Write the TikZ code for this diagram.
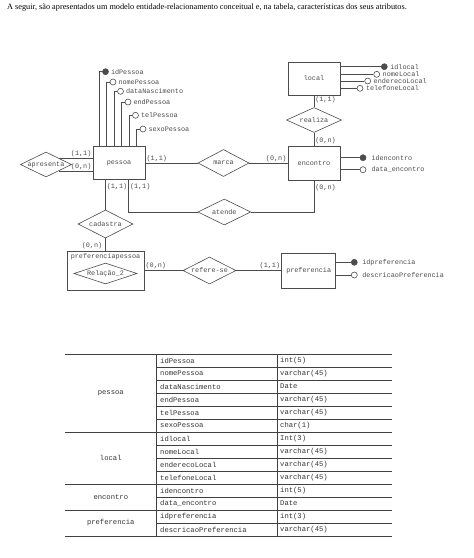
\documentclass[tikz,border=0pt]{standalone}
\usepackage{fontspec}
\setmainfont{Liberation Serif}
\setmonofont{Liberation Mono}
\usetikzlibrary{shapes.geometric,positioning,calc}

\newcommand{\dfont}{\fontsize{6.8}{7}\selectfont\ttfamily}
\newcommand{\tfont}{\fontsize{7.2}{8}\selectfont\ttfamily}

\begin{document}
\begin{tikzpicture}[
        x=1pt, y=-1pt,
        font=\dfont,
        entidade/.style={draw=black!70, text=black!70, line width=0.6pt, minimum width=52pt, minimum height=33pt, inner sep=0pt},
        relacao/.style={diamond, draw=black!70, text=black!70, line width=0.6pt, shape aspect=2, inner sep=0pt, minimum width=52pt, minimum height=26pt},
        chave/.style={circle, draw=black!70, fill=black!70, line width=0.6pt, minimum size=6pt, inner sep=0pt},
        atrib/.style={circle, draw=black!70, fill=white, line width=0.6pt, minimum size=6pt, inner sep=0pt},
        rotulo/.style={text=black!70, inner sep=0pt, anchor=west},
        card/.style={text=black!70, inner sep=1pt},
        liga/.style={draw=black!70, line width=0.6pt},
        grade/.style={draw=black!75, line width=0.6pt},
        celula/.style={font=\tfont, text=black!80, inner sep=0pt, anchor=west},
        grupo/.style={font=\tfont, text=black!80, inner sep=0pt}
    ]
        \useasboundingbox (0,0) rectangle (474,558);

        \node[font=\fontsize{8.25}{9}\selectfont\rmfamily, anchor=west, inner sep=0pt] (titulo) at (7,8) {A seguir, são apresentados um modelo entidade-relacionamento conceitual e, na tabela, características dos seus atributos.};

        % entidades
        \node[entidade] (pessoa) at (119,163) {pessoa};
        \node[entidade, minimum height=34pt] (encontro) at (314,163) {encontro};
        \node[entidade] (local) at (314,78.5) {local};
        \node[entidade, minimum width=54pt, minimum height=35pt] (preferencia) at (308.7,270.5) {preferencia};
        \node[draw=black!70, line width=0.6pt, minimum width=77pt, minimum height=39pt, inner sep=0pt] (prefpessoa) at (105.5,270.5) {};
        \node[text=black!70, inner sep=0pt] (prefpessoaRot) at (105.5,256.5) {preferenciapessoa};
        \node[relacao, minimum width=63pt, minimum height=21pt, shape aspect=3] (relacao2) at (105.5,273.5) {Relação\_2};

        % relacionamentos
        \node[relacao, minimum width=51pt, minimum height=25pt] (apresenta) at (46,164.5) {apresenta};
        \node[relacao, minimum width=51pt, minimum height=27pt] (marca) at (223.5,163) {marca};
        \node[relacao, minimum width=55pt, minimum height=25pt] (realiza) at (314,120) {realiza};
        \node[relacao, minimum width=53pt, minimum height=26pt] (atende) at (224.3,212) {atende};
        \node[relacao, minimum width=55pt, minimum height=28pt] (cadastra) at (105.5,224) {cadastra};
        \node[relacao, minimum width=53pt, minimum height=27pt] (referese) at (209.5,270.5) {refere-se};

        % ligacoes
        \draw[liga] (apresenta.north east) -- (apresenta.north east -| pessoa.west) node[card, above left] {(1,1)};
        \draw[liga] (apresenta.south east) -- (apresenta.south east -| pessoa.west) node[card, above left] {(0,n)};
        \draw[liga] (pessoa.east) node[card, above right] {(1,1)} -- (marca.west);
        \draw[liga] (marca.east) -- (encontro.west) node[card, above left] {(0,n)};
        \draw[liga] (local.south) node[card, below right] {(1,1)} -- (realiza.north);
        \draw[liga] (realiza.south) -- (encontro.north) node[card, above right] {(0,n)};
        \draw[liga] (cadastra.north |- pessoa.south) node[card, below right, yshift=-2pt] {(1,1)} -- (cadastra.north);
        \draw[liga] ([xshift=9.7pt]pessoa.south) node[card, below right, yshift=-2pt] {(1,1)} |- (atende.west);
        \draw[liga] (atende.east) -| (encontro.south) node[card, below right, yshift=-3pt] {(0,n)};
        \draw[liga] (cadastra.south) -- (prefpessoa.north -| cadastra.south) node[card, above left, xshift=-2pt] {(0,n)};
        \draw[liga] (prefpessoa.east) node[card, above right] {(0,n)} -- (referese.west);
        \draw[liga] (referese.east) -- (preferencia.west) node[card, above left] {(1,1)};

        % atributos de pessoa
        \node[chave] (aIdPessoa) at (105.5,71.7) {};
        \node[atrib] (aNomePessoa) at (113,82) {};
        \node[atrib] (aDataNasc) at (120.5,91.3) {};
        \node[atrib] (aEndPessoa) at (128,102) {};
        \node[atrib] (aTelPessoa) at (135.5,115.3) {};
        \node[atrib] (aSexoPessoa) at (143,129) {};
        \node[rotulo, right=2pt of aIdPessoa] (tIdPessoa) {idPessoa};
        \node[rotulo, right=2pt of aNomePessoa] (tNomePessoa) {nomePessoa};
        \node[rotulo, right=2pt of aDataNasc] (tDataNasc) {dataNascimento};
        \node[rotulo, right=2pt of aEndPessoa] (tEndPessoa) {endPessoa};
        \node[rotulo, right=2pt of aTelPessoa] (tTelPessoa) {telPessoa};
        \node[rotulo, right=2pt of aSexoPessoa] (tSexoPessoa) {sexoPessoa};
        \draw[liga] (aIdPessoa.west) -| ($(aIdPessoa.west |- pessoa.north)+(-3,0)$);
        \draw[liga] (aNomePessoa.west) -| ($(aNomePessoa.west |- pessoa.north)+(-3,0)$);
        \draw[liga] (aDataNasc.west) -| ($(aDataNasc.west |- pessoa.north)+(-3,0)$);
        \draw[liga] (aEndPessoa.west) -| ($(aEndPessoa.west |- pessoa.north)+(-3,0)$);
        \draw[liga] (aTelPessoa.west) -| ($(aTelPessoa.west |- pessoa.north)+(-3,0)$);
        \draw[liga] (aSexoPessoa.west) -| ($(aSexoPessoa.west |- pessoa.north)+(-3,0)$);

        % atributos de local
        \node[chave] (aIdLocal) at (384.3,66.7) {};
        \node[atrib] (aNomeLocal) at (376.7,74.3) {};
        \node[atrib] (aEndLocal) at (367.7,81) {};
        \node[atrib] (aTelLocal) at (360,88.3) {};
        \node[rotulo, right=2.5pt of aIdLocal] (tIdLocal) {idlocal};
        \node[rotulo, right=2.5pt of aNomeLocal] (tNomeLocal) {nomeLocal};
        \node[rotulo, right=2.5pt of aEndLocal] (tEndLocal) {enderecoLocal};
        \node[rotulo, right=2.5pt of aTelLocal] (tTelLocal) {telefoneLocal};
        \draw[liga] (local.east |- aIdLocal) -- (aIdLocal.west);
        \draw[liga] (local.east |- aNomeLocal) -- (aNomeLocal.west);
        \draw[liga] (local.east |- aEndLocal) -- (aEndLocal.west);
        \draw[liga] (local.east |- aTelLocal) -- (aTelLocal.west);

        % atributos de encontro
        \node[chave] (aIdEncontro) at (363,157.7) {};
        \node[atrib] (aDataEncontro) at (363,169.7) {};
        \node[rotulo, right=5pt of aIdEncontro] (tIdEncontro) {idencontro};
        \node[rotulo, right=5pt of aDataEncontro] (tDataEncontro) {data\_encontro};
        \draw[liga] (encontro.east |- aIdEncontro) -- (aIdEncontro.west);
        \draw[liga] (encontro.east |- aDataEncontro) -- (aDataEncontro.west);

        % atributos de preferencia
        \node[chave] (aIdPref) at (354.3,262.3) {};
        \node[atrib] (aDescPref) at (354.3,275) {};
        \node[rotulo, right=4.5pt of aIdPref] (tIdPref) {idpreferencia};
        \node[rotulo, right=4.5pt of aDescPref] (tDescPref) {descricaoPreferencia};
        \draw[liga] (preferencia.east |- aIdPref) -- (aIdPref.west);
        \draw[liga] (preferencia.east |- aDescPref) -- (aDescPref.west);

        % tabela
        \draw[grade] (65,354) -- (392,354) (65,432) -- (392,432) (65,484) -- (392,484) (65,510) -- (392,510) (65,536) -- (392,536);
        \draw[grade] (156.7,367) -- (392,367) (156.7,380) -- (392,380) (156.7,393) -- (392,393) (156.7,406) -- (392,406) (156.7,419) -- (392,419)
            (156.7,445) -- (392,445) (156.7,458) -- (392,458) (156.7,471) -- (392,471) (156.7,497) -- (392,497) (156.7,523) -- (392,523);
        \draw[grade, line width=1pt] (156.7,354) -- (156.7,536) (277.3,354) -- (277.3,536);

        \node[grupo] (gPessoa) at (110.8,393) {pessoa};
        \node[grupo] (gLocal) at (110.8,458) {local};
        \node[grupo] (gEncontro) at (110.8,497) {encontro};
        \node[grupo] (gPreferencia) at (110.8,523) {preferencia};

        \node[celula] (c1) at (160,360.5) {idPessoa};
        \node[celula] (c2) at (160,373.5) {nomePessoa};
        \node[celula] (c3) at (160,386.5) {dataNascimento};
        \node[celula] (c4) at (160,399.5) {endPessoa};
        \node[celula] (c5) at (160,412.5) {telPessoa};
        \node[celula] (c6) at (160,425.5) {sexoPessoa};
        \node[celula] (c7) at (160,438.5) {idlocal};
        \node[celula] (c8) at (160,451.5) {nomeLocal};
        \node[celula] (c9) at (160,464.5) {enderecoLocal};
        \node[celula] (c10) at (160,477.5) {telefoneLocal};
        \node[celula] (c11) at (160,490.5) {idencontro};
        \node[celula] (c12) at (160,503.5) {data\_encontro};
        \node[celula] (c13) at (160,516.5) {idpreferencia};
        \node[celula] (c14) at (160,529.5) {descricaoPreferencia};

        \node[celula] (d1) at (280,360.5) {int(5)};
        \node[celula] (d2) at (280,373.5) {varchar(45)};
        \node[celula] (d3) at (280,386.5) {Date};
        \node[celula] (d4) at (280,399.5) {varchar(45)};
        \node[celula] (d5) at (280,412.5) {varchar(45)};
        \node[celula] (d6) at (280,425.5) {char(1)};
        \node[celula] (d7) at (280,438.5) {Int(3)};
        \node[celula] (d8) at (280,451.5) {varchar(45)};
        \node[celula] (d9) at (280,464.5) {varchar(45)};
        \node[celula] (d10) at (280,477.5) {varchar(45)};
        \node[celula] (d11) at (280,490.5) {int(5)};
        \node[celula] (d12) at (280,503.5) {Date};
        \node[celula] (d13) at (280,516.5) {int(3)};
        \node[celula] (d14) at (280,529.5) {varchar(45)};
    \end{tikzpicture}
\end{document}
